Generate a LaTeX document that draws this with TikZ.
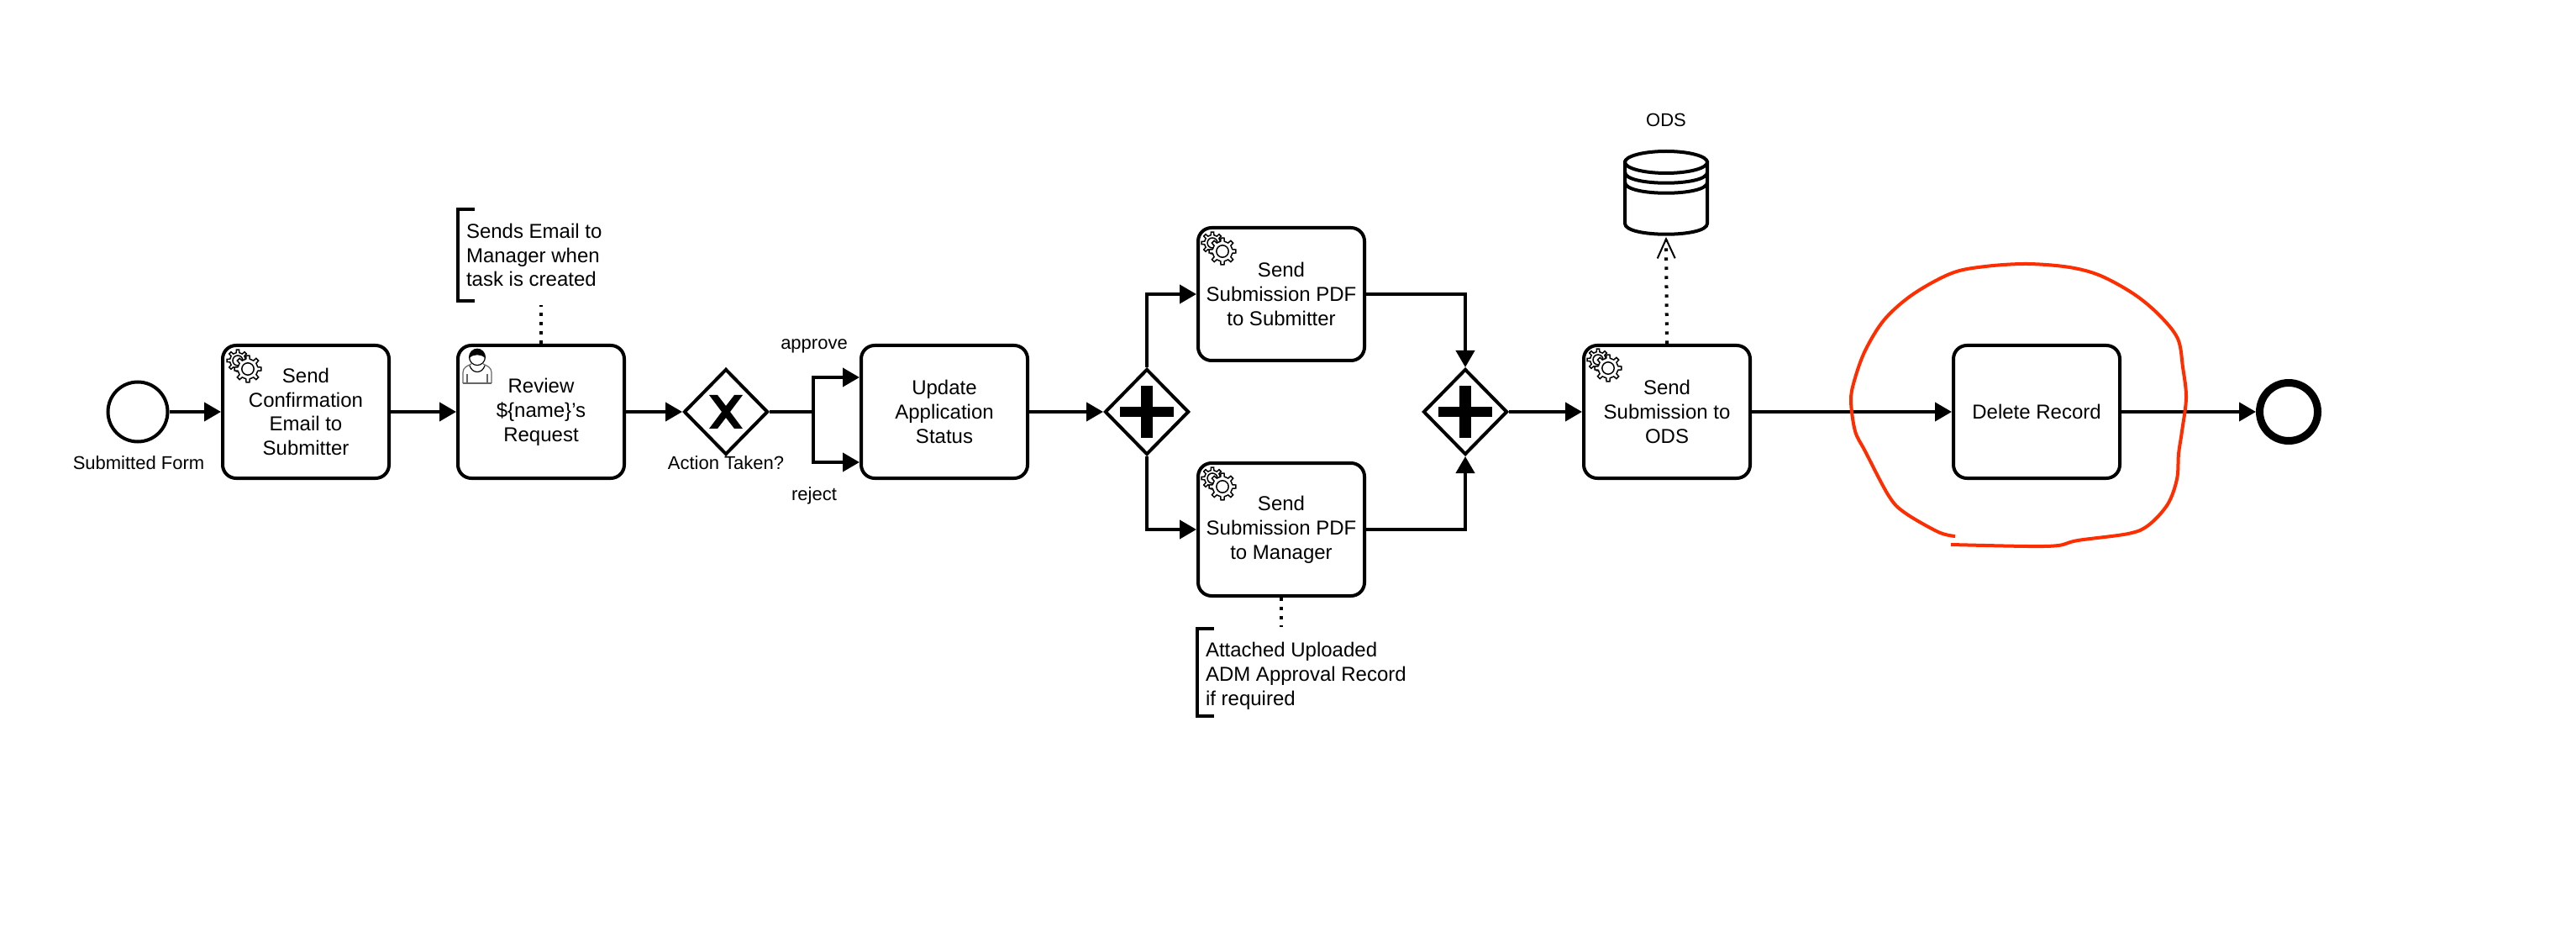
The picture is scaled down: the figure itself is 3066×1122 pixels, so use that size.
\documentclass[tikz,border=0pt]{standalone}
\usepackage{fontspec}
\setmainfont{Liberation Sans}
\usetikzlibrary{arrows.meta,shapes.geometric,calc}
\definecolor{redmark}{RGB}{255,45,0}
\tikzset{
  x=0.5pt,y=-0.5pt,
  task/.style={draw,rectangle,rounded corners=8pt,minimum width=99pt,minimum height=79pt,inner sep=0pt,align=center,font=\fontsize{12}{14.4}\selectfont},
  label/.style={inner sep=0pt,font=\fontsize{11}{13}\selectfont,text height=8pt,text depth=2.3pt},
  note/.style={anchor=west,inner sep=0pt,inner xsep=4pt,minimum height=52.5pt,align=left,font=\fontsize{12}{14.4}\selectfont},
  gate/.style={draw,diamond,aspect=1,inner sep=0pt,minimum width=50pt,minimum height=51pt},
  flow/.style={-{Triangle[length=10pt,width=11pt]}},
  assoc/.style={dash pattern=on 1.8pt off 3.7pt},
  gears/.pic={
    \begin{scope}[line width=0.75pt]
      \draw[fill=white] ($(-12,-10)+(-11:9.5)$) \foreach \a in {0,45,...,315}{ -- ($(-12,-10)+(\a-11:9.5)$) -- ($(-12,-10)+(\a-7:13)$) -- ($(-12,-10)+(\a+7:13)$) -- ($(-12,-10)+(\a+11:9.5)$)} -- cycle;
      \draw (-12,-10) circle[radius=3pt];
      \draw[fill=white] (-11:12) \foreach \a in {0,45,...,315}{ -- (\a-11:12) -- (\a-7:16) -- (\a+7:16) -- (\a+11:12)} -- cycle;
      \draw (0,0) circle[radius=3.6pt];
    \end{scope}
  },
  person/.pic={
    \begin{scope}[line width=0.6pt]
      \draw[draw=black!60] (-17,31) -- (-17,18) .. controls (-17,12) and (-11,10) .. (-7,8);
      \draw[draw=black!60] (17,31) -- (17,18) .. controls (17,12) and (11,10) .. (7,8);
      \draw[draw=black!60] (-17,31) -- (17,31);
      \draw[draw=black!60] (-12,20) -- (-12,31) (12,20) -- (12,31);
      \draw (-9,10) .. controls (-6,20) and (6,20) .. (9,10);
      \draw (0,0) ellipse[x radius=4.7pt,y radius=4.8pt];
      \fill (-9.4,1) .. controls (-9,-14) and (9,-14) .. (9.4,1) .. controls (4,-4) and (-4,-4) .. (-9.4,1) -- cycle;
    \end{scope}
  },
  plusmark/.pic={
    \fill (-32,-6) rectangle (32,6);
    \fill (-7,-31) rectangle (7,31);
  },
  xmark/.pic={
    \fill (-20,-20) -- (-10,-20) -- (0,-7) -- (10,-20) -- (20,-20) -- (5,0) -- (20,20) -- (10,20) -- (0,7) -- (-10,20) -- (-20,20) -- (-5,0) -- cycle;
  }
}
\begin{document}
\begin{tikzpicture}[line width=2pt]
\useasboundingbox (0,0) rectangle (3066,1122);

% events
\node[draw,circle,inner sep=0pt,minimum size=35.5pt] (start) at (164,490) {};
\node[draw,circle,inner sep=0pt,minimum size=34.5pt,line width=4.5pt] (end) at (2724,490) {};
\node[label] (lstart) at (165,553) {Submitted Form};

% tasks
\node[task] (t1) at (364,490) {Send\\Confirmation\\Email to\\Submitter};
\node[task] (t2) at (644,490) {Review\\\$\{name\}'s\\Request};
\node[task] (t3) at (1124,490) {Update\\Application\\Status};
\node[task] (t4) at (1525,350) {Send\\Submission PDF\\to Submitter};
\node[task] (t5) at (1525,630) {Send\\Submission PDF\\to Manager};
\node[task] (t6) at (1984,490) {Send\\Submission to\\ODS};
\node[task] (t7) at (2424,490) {Delete Record};

% task icons
\pic at ($(t1.north west)+(32,30)$) {gears};
\pic at ($(t4.north west)+(31,30)$) {gears};
\pic at ($(t5.north west)+(31,30)$) {gears};
\pic at ($(t6.north west)+(31,29)$) {gears};
\pic at ($(t2.north west)+(25,16)$) {person};

% gateways
\node[gate] (gx) at (864,490) {};
\node[gate] (g1) at (1365,490) {};
\node[gate] (g2) at (1744,490) {};
\pic at (gx) {xmark};
\pic at (g1) {plusmark};
\pic at (g2) {plusmark};
\node[label] (lgx) at (864,553) {Action Taken?};
\node[label] (lapp) at (969,410) {approve};
\node[label] (lrej) at (969,590) {reject};

% data store
\node[minimum width=50pt,minimum height=50.5pt,inner sep=0pt] (ds) at (1983,229.5) {};
\node[label] (lds) at (1983,145) {ODS};
\draw[fill=white] (1934,193) -- (1934,266) .. controls (1934,283) and (2032,283) .. (2032,266) -- (2032,193) -- cycle;
\draw[fill=white] (1983,193) ellipse[x radius=24.5pt,y radius=6.5pt];
\draw (1934,205) .. controls (1934,222) and (2032,222) .. (2032,205);
\draw (1934,217) .. controls (1934,234) and (2032,234) .. (2032,217);

% annotations
\node[note] (n1) at (545,303.5) {Sends Email to\\Manager when\\task is created};
\draw ($(n1.north west)+(20,0)$) -- (n1.north west) -- (n1.south west) -- ($(n1.south west)+(20,0)$);
\node[note,minimum height=50pt] (n2) at (1425,804) {Attached Uploaded\\ADM Approval Record\\if required};
\draw ($(n2.north west)+(20,-4)$) -- ($(n2.north west)+(0,-4)$) -- ($(n2.south west)+(0,-4)$) -- ($(n2.south west)+(20,-4)$);

% helper ends
\coordinate (j) at (968,490);
\coordinate (a1) at (1023,449);
\coordinate (a2) at (1023,550);
\coordinate (c1) at (644,363);
\coordinate (c2) at (1525,746);

% flows
\draw[flow] (start) -- (t1);
\draw[flow] (t1) -- (t2);
\draw[flow] (t2) -- (gx);
\draw (gx.east) -- (j);
\draw[flow] (j) |- (a1);
\draw[flow] (j) |- (a2);
\draw[flow] (t3) -- (g1);
\draw[flow] (g1.north) |- (t4.west);
\draw[flow] (g1.south) |- (t5.west);
\draw[flow] (t4.east) -| (g2.north);
\draw[flow] (t5.east) -| (g2.south);
\draw[flow] (g2) -- (t6);
\draw[flow] (t6) -- (t7);
\draw[flow] (t7) -- (end);

% associations
\draw[assoc] (t2.north) -- (c1);
\draw[assoc] (t5.south) -- (c2);
\draw[assoc,-{Straight Barb[length=11.5pt,width=10.5pt,line width=1pt]}] (t6.north) -- (ds.south);

% red hand-drawn mark
\draw[redmark,line width=2pt] plot[smooth,tension=0.55] coordinates {
 (2327,638) (2307,633) (2267,610) (2248,590) (2220,537) (2208,513) (2203,477) (2207,453) (2220,417)
 (2243,380) (2277,350) (2323,325) (2363,317) (2413,314) (2463,318) (2500,328) (2540,350) (2570,375)
 (2592,403) (2598,437) (2602,473) (2597,513) (2593,540) (2591,570) (2580,600) (2557,625) (2533,635)
 (2473,643) (2450,649) (2413,650) (2322,648)};
\end{tikzpicture}
\end{document}
